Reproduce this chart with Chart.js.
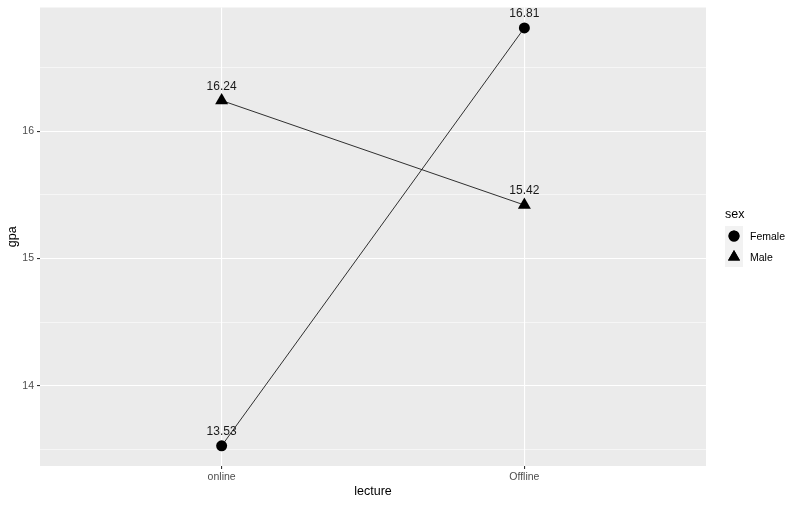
<!DOCTYPE html>
<html>
<head>
<meta charset="utf-8">
<script src="https://cdn.jsdelivr.net/npm/chart.js@4"></script>
<style>
  html, body { margin: 0; padding: 0; background: #fff; }
</style>
</head>
<body>
<canvas id="gpaChart" width="800" height="505"></canvas>
<script>
// data
const lectures = ['online', 'Offline'];
const femaleGpa = [13.53, 16.81];
const maleGpa = [16.24, 15.42];
const yMajor = [14, 15, 16];
const yMinor = [13.5, 14.5, 15.5, 16.5];
const sexLabels = ['Female', 'Male'];

const FONT = '"Liberation Sans", Arial, sans-serif';

const toPoints = (arr) => arr.map((v, i) => ({ x: i + 1, y: v }));

// no extra label overflow padding, panel box is fixed
const noPad = (scale) => {
  scale.paddingTop = 0;
  scale.paddingBottom = 0;
  scale.paddingLeft = 0;
  scale.paddingRight = 0;
};

// panel background + axis titles + legend
const ggPlugin = {
  id: 'ggTheme',
  beforeDraw(chart) {
    const { ctx, chartArea: a } = chart;
    ctx.save();
    ctx.fillStyle = '#ffffff';
    ctx.fillRect(0, 0, chart.width, chart.height);
    ctx.fillStyle = '#EBEBEB';
    ctx.fillRect(a.left, a.top, a.right - a.left, a.bottom - a.top);
    ctx.restore();
  },
  afterDraw(chart) {
    const { ctx, chartArea: a } = chart;
    ctx.save();
    // axis titles
    ctx.fillStyle = '#000';
    ctx.font = '12.5px ' + FONT;
    ctx.textAlign = 'center';
    ctx.textBaseline = 'middle';
    ctx.fillText('lecture', (a.left + a.right) / 2, 492);
    ctx.translate(13, (a.top + a.bottom) / 2);
    ctx.rotate(-Math.PI / 2);
    ctx.fillText('gpa', 0, 0);
    ctx.restore();

    // legend
    ctx.save();
    ctx.fillStyle = '#000';
    ctx.font = '12.5px ' + FONT;
    ctx.textAlign = 'left';
    ctx.textBaseline = 'middle';
    ctx.fillText('sex', 725, 215);
    ctx.fillStyle = '#F2F2F2';
    ctx.fillRect(725, 226, 18, 41);
    ctx.fillStyle = '#000';
    chart.data.datasets.forEach((ds, i) => {
      const cy = 236 + i * 21;
      Chart.helpers.drawPoint(ctx, {
        pointStyle: ds.pointStyle,
        radius: ds.pointStyle === 'triangle' ? 7 : 5.5,
        rotation: 0,
        borderWidth: 0
      }, 734, cy);
      ctx.fill();
    });
    ctx.font = '10.5px ' + FONT;
    ctx.fillStyle = '#000';
    sexLabels.forEach((lab, i) => ctx.fillText(lab, 750, 237 + i * 21));
    ctx.restore();
  },
  afterDatasetsDraw(chart) {
    // value labels above points
    const { ctx } = chart;
    ctx.save();
    ctx.font = '12px ' + FONT;
    ctx.fillStyle = '#1a1a1a';
    ctx.textAlign = 'center';
    ctx.textBaseline = 'middle';
    chart.data.datasets.forEach((ds, di) => {
      const meta = chart.getDatasetMeta(di);
      meta.data.forEach((el, i) => {
        ctx.fillText(ds.data[i].y.toFixed(2), el.x, el.y - 14);
      });
    });
    ctx.restore();
  }
};

const config = {
  type: 'line',
  data: {
    datasets: [{
      label: sexLabels[0],
      data: toPoints(femaleGpa),
      borderColor: '#1a1a1a',
      borderWidth: 0.9,
      pointStyle: 'circle',
      pointRadius: 5.5,
      pointBackgroundColor: '#000',
      pointBorderWidth: 0
    }, {
      label: sexLabels[1],
      data: toPoints(maleGpa),
      borderColor: '#1a1a1a',
      borderWidth: 0.9,
      pointStyle: 'triangle',
      pointRadius: 7.5,
      pointBackgroundColor: '#000',
      pointBorderWidth: 0
    }]
  },
  options: {
    responsive: false,
    animation: false,
    devicePixelRatio: 1,
    layout: { padding: { top: 6, right: 94, left: 0, bottom: 0 } },
    plugins: {
      legend: { display: false },
      tooltip: { enabled: false }
    },
    scales: {
      x: {
        type: 'linear',
        min: 0.4,
        max: 2.6,
        afterBuildTicks: (scale) => {
          scale.ticks = lectures.map((_, i) => ({ value: i + 1 }));
        },
        afterFit: (scale) => { scale.height = 39; noPad(scale); },
        border: { display: false },
        grid: {
          color: '#ffffff',
          lineWidth: 1.1,
          tickColor: '#333333',
          tickLength: 3
        },
        ticks: {
          color: '#4D4D4D',
          font: { family: FONT, size: 10.5 },
          padding: 2,
          maxRotation: 0,
          callback: (v) => lectures[Math.round(v) - 1]
        }
      },
      y: {
        min: 13.372,
        max: 16.97,
        afterBuildTicks: (scale) => {
          scale.ticks = yMinor.concat(yMajor).sort((p, q) => p - q).map(v => ({ value: v }));
        },
        afterFit: (scale) => { scale.width = 40; noPad(scale); },
        border: { display: false },
        grid: {
          color: '#ffffff',
          lineWidth: (c) => yMajor.includes(c.tick.value) ? 1.1 : 0.55,
          tickColor: (c) => yMajor.includes(c.tick.value) ? '#333333' : 'rgba(0,0,0,0)',
          tickLength: 3
        },
        ticks: {
          color: '#4D4D4D',
          font: { family: FONT, size: 10.5 },
          padding: 3,
          callback: (v) => yMajor.includes(v) ? String(v) : ''
        }
      }
    }
  },
  plugins: [ggPlugin]
};

const gpaChart = new Chart(document.getElementById('gpaChart'), config);
</script>
</body>
</html>
